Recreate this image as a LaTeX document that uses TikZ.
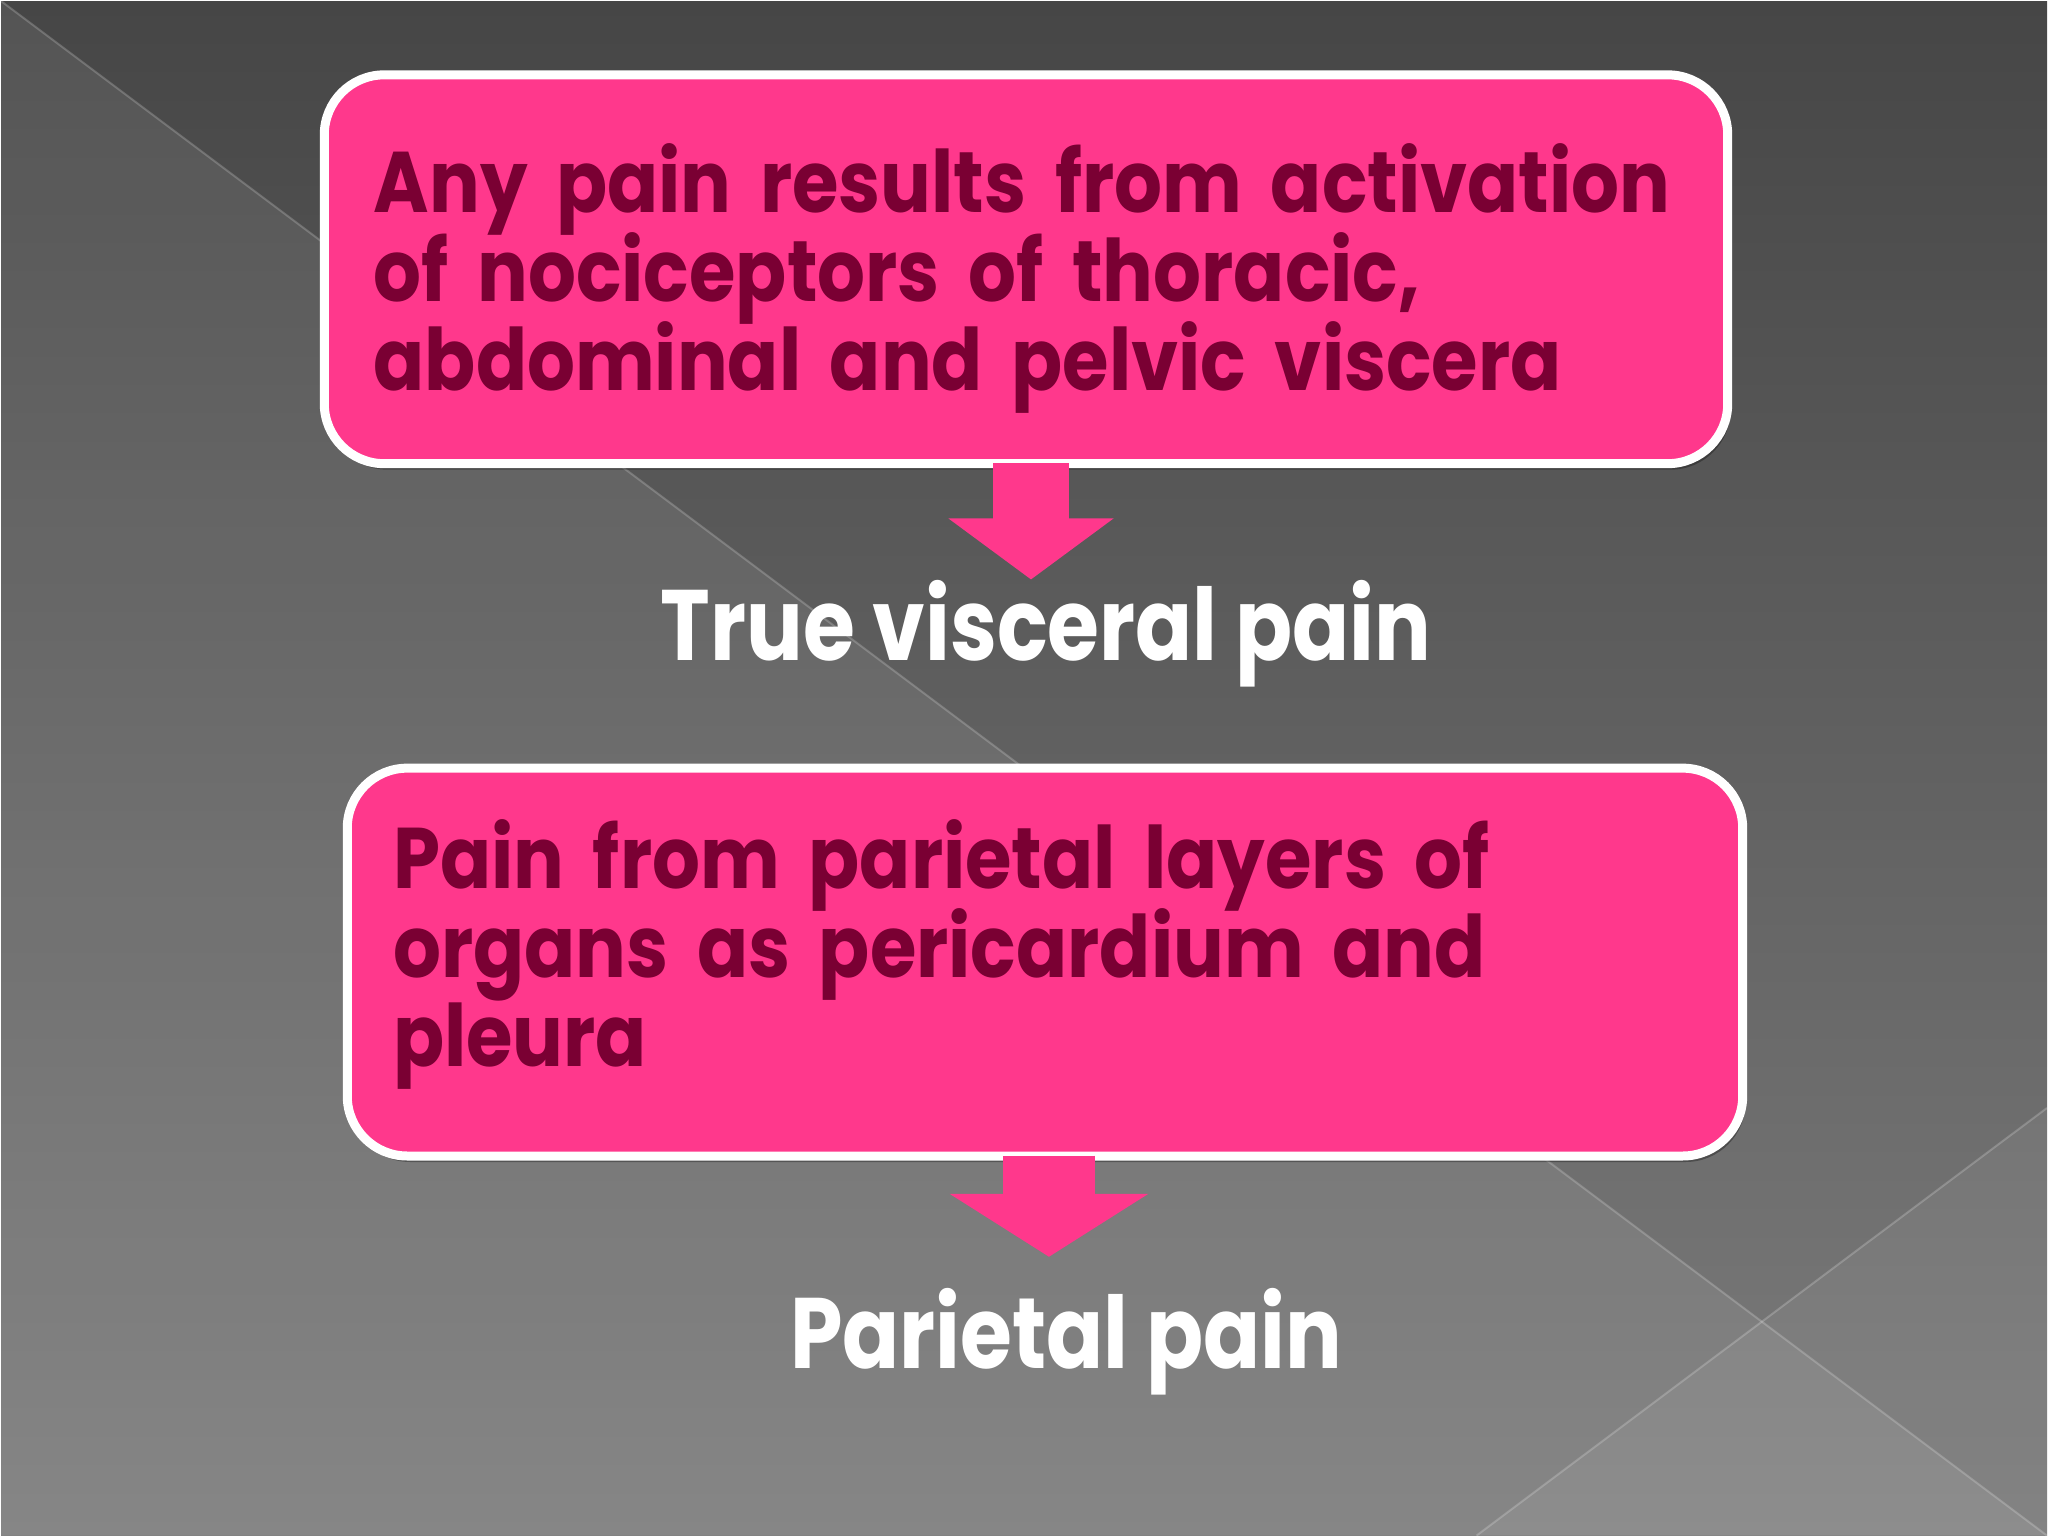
\documentclass[tikz,border=0pt]{standalone}
\usepackage{fontspec}
\setmainfont{Poppins}
\newfontfamily\boxfont{Poppins}[FakeStretch=0.875, WordSpace=0.75]
\newfontfamily\labelfont{Poppins}[FakeStretch=0.84]
\usetikzlibrary{arrows.meta,shadows}

\definecolor{slidepink}{HTML}{FF388C}
\definecolor{painred}{HTML}{7A0033}
\definecolor{bgtop}{HTML}{464646}
\definecolor{bgbottom}{HTML}{7C7C7C}

\tikzset{
  painbox/.style={draw=white, line width=0.09cm, fill=slidepink, rounded corners=0.6cm,
    align=left, text=painred,
    font=\boxfont\bfseries\fontsize{24.5pt}{25.4pt}\selectfont,
    execute at begin node={\lineskiplimit=-20pt\lineskip=0pt},
    drop shadow={shadow xshift=0.03cm, shadow yshift=-0.06cm, opacity=0.3, fill=black}},
  painlabel/.style={text=white, inner sep=0pt, anchor=base,
    font=\labelfont\bfseries\fontsize{28.5pt}{30pt}\selectfont},
  bigarrow/.style n args={3}{draw=slidepink, line width=#1, -{Triangle[width=#2, length=#3]}}
}

\begin{document}
\begin{tikzpicture}[x=0.01cm,y=-0.01cm]
  % background
  \fill[top color=bgtop, bottom color=bgbottom] (0,0) rectangle (2048,1536);
  \fill[white, opacity=0.08] (0,0) -- (2048,1536) -- (0,1536) -- cycle;
  \fill[white, opacity=0.06] (2048,1108) -- (2048,1536) -- (1477,1536) -- cycle;
  \draw[white, opacity=0.2, line width=0.02cm] (0,0) -- (2048,1536);
  \draw[white, opacity=0.2, line width=0.02cm] (2048,1108) -- (1477,1536);

  % boxes and labels
  \node[painbox, text width=13.05cm, inner xsep=0.495cm, text depth=1.83cm, minimum height=3.89cm] (visc) at (1026,268.5)
    {Any pain results from activation\\ of nociceptors of thoracic,\\ abdominal and pelvic viscera};
  \node[painlabel] (tvp) at (1046,660) {True visceral pain};
  \node[painbox, text width=13.04cm, inner xsep=0.46cm, text depth=2.17cm, minimum height=3.88cm] (pari) at (1045,962)
    {Pain from parietal layers of\\ organs as pericardium and\\ pleura};
  \node[painlabel] (parp) at (1066,1369) {Parietal pain};

  % arrows
  \draw[bigarrow={0.76cm}{1.62cm}{0.61cm}] ([xshift=0.05cm,yshift=0.05cm]visc.south) -- ([xshift=0.05cm]visc.south |- tvp.north);
  \draw[bigarrow={0.92cm}{1.96cm}{0.63cm}] ([xshift=0.04cm,yshift=0.05cm]pari.south) -- ([xshift=0.04cm,yshift=0.31cm]pari.south |- parp.north);
\end{tikzpicture}
\end{document}
